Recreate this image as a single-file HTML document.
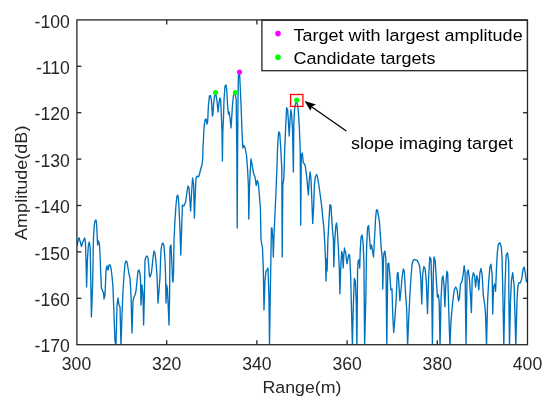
<!DOCTYPE html>
<html><head><meta charset="utf-8"><style>
html,body{margin:0;padding:0;background:#fff;}
svg{display:block;}
text{font-family:"Liberation Sans",Arial,sans-serif;fill:#262626;}
</style></head><body>
<svg width="550" height="407" viewBox="0 0 550 407">
<rect x="0" y="0" width="550" height="407" fill="#fff"/>
<clipPath id="ax"><rect x="76.9" y="19.9" width="450.6" height="324.8"/></clipPath>
<polyline clip-path="url(#ax)" points="77.0,246.0 78.0,241.0 79.0,237.6 80.3,242.0 81.5,246.5 82.8,242.0 84.6,238.0 85.4,242.0 86.0,260.0 86.6,287.0 87.4,260.0 88.4,245.0 89.4,242.0 90.2,248.0 90.6,270.0 91.4,317.0 92.6,285.0 93.0,265.0 93.4,240.0 94.2,226.0 95.0,221.0 96.0,220.0 96.6,224.0 97.0,232.0 97.6,245.0 98.6,241.0 99.4,244.0 100.0,254.0 100.6,270.0 101.4,288.0 102.6,291.0 103.6,293.0 104.0,299.0 105.0,295.0 105.6,281.0 106.0,270.0 107.0,266.0 108.0,270.0 109.0,265.0 110.0,265.0 111.0,268.0 112.0,276.0 113.0,288.0 114.0,315.0 115.0,341.0 116.0,346.0 117.0,305.0 118.0,298.0 119.0,305.0 120.0,307.0 121.0,346.0 122.0,315.0 123.0,291.0 124.0,275.0 125.0,264.0 126.0,261.0 127.0,262.0 128.0,268.0 129.0,274.0 130.0,278.0 131.0,295.0 132.0,333.0 133.0,301.0 134.0,297.0 135.0,295.0 136.0,291.0 137.0,281.0 138.0,271.0 139.0,270.0 140.0,274.0 140.6,282.0 141.0,305.0 142.0,285.0 143.0,295.0 143.6,325.0 144.4,295.0 145.0,260.0 146.0,257.0 147.0,256.0 148.0,258.0 148.6,264.0 149.4,276.0 150.0,277.0 151.4,273.0 152.6,262.0 153.2,256.0 154.0,251.0 155.0,253.0 156.0,262.0 157.0,276.0 157.5,289.0 158.0,303.0 159.0,291.0 160.0,277.0 160.5,262.0 161.0,250.0 162.0,244.0 163.0,243.0 164.0,246.0 165.0,260.0 165.6,276.0 166.0,303.0 166.6,285.0 167.4,289.0 168.0,301.0 169.0,325.0 169.6,295.0 170.0,247.0 171.0,245.0 172.0,266.0 172.6,281.0 173.0,282.0 173.6,271.0 174.0,240.0 175.0,220.0 176.0,205.0 177.0,196.0 177.6,195.0 178.4,198.0 179.0,208.0 180.0,230.0 180.8,255.0 181.6,230.0 182.4,205.0 183.6,206.0 184.4,205.0 185.6,202.0 187.0,192.0 188.0,186.0 189.0,188.0 190.0,202.0 190.6,211.0 191.6,192.0 192.6,178.0 193.6,184.0 194.4,218.0 195.2,196.0 196.0,178.0 197.0,176.0 198.0,177.0 199.0,176.0 200.0,172.0 201.0,168.0 202.0,165.0 202.6,160.0 203.0,148.0 203.6,136.0 204.0,128.0 205.0,120.0 206.0,119.0 207.0,124.0 207.6,122.0 208.4,106.0 209.4,96.0 210.4,95.6 211.4,100.0 212.4,116.0 213.0,114.0 213.6,104.0 214.4,97.0 215.2,93.6 216.0,95.0 217.0,101.0 218.0,112.0 219.0,103.0 220.0,98.0 220.6,99.0 221.2,112.0 222.0,132.0 222.4,161.0 222.8,132.0 223.4,120.0 224.0,100.0 225.0,86.0 226.0,85.0 226.8,90.0 227.6,106.0 228.4,114.0 229.2,112.0 230.0,118.0 231.0,128.0 231.6,120.0 232.4,106.0 233.4,96.0 234.4,93.0 235.4,95.0 236.2,100.0 236.8,150.0 237.2,228.0 237.6,150.0 238.0,100.0 238.4,76.0 239.0,72.0 239.6,74.0 240.2,86.0 241.0,104.0 241.6,120.0 242.4,141.0 243.0,148.0 244.0,145.5 245.2,148.0 246.6,156.0 247.6,170.0 248.4,186.0 248.8,219.0 249.4,190.0 250.0,176.0 250.9,159.0 252.1,164.6 253.0,170.0 253.8,174.0 255.0,177.0 256.2,185.5 257.4,180.5 258.4,184.0 259.4,196.0 260.4,208.0 261.0,239.5 262.5,248.0 263.3,269.0 264.0,310.0 265.0,280.0 266.0,271.0 267.0,270.0 268.0,268.0 269.0,300.0 269.5,346.0 270.2,300.0 271.4,228.0 272.0,228.0 272.9,240.0 273.3,257.0 274.0,235.0 275.0,213.0 276.0,192.0 277.0,166.0 277.5,149.5 278.0,140.0 278.8,131.8 279.8,133.8 280.8,149.5 281.8,169.0 282.2,257.0 282.8,185.0 283.8,179.0 284.7,150.0 285.6,129.0 286.6,107.7 287.6,109.6 288.6,125.0 289.2,136.0 290.1,119.5 290.9,109.6 291.7,115.5 292.5,129.0 293.4,172.0 293.8,125.0 294.5,109.6 295.5,103.8 296.4,101.8 297.4,103.8 298.4,111.6 299.4,129.0 300.2,149.0 300.7,225.0 301.3,155.0 302.3,153.0 303.3,162.7 304.3,163.7 305.3,166.0 305.8,170.0 306.7,177.0 307.5,185.6 308.4,195.0 309.3,178.8 310.1,172.0 311.0,178.8 311.8,199.0 312.7,223.5 313.6,208.0 314.4,185.6 315.3,177.0 316.5,174.5 317.5,177.0 318.7,184.0 319.9,192.5 321.3,202.9 322.7,216.6 323.9,228.7 324.8,243.6 325.5,259.0 326.0,281.0 326.5,259.0 327.1,271.0 327.9,239.6 329.0,220.0 329.9,204.6 331.0,206.0 331.6,216.6 332.5,230.0 333.4,239.6 333.8,267.0 334.8,239.6 335.8,226.0 336.5,223.0 337.3,229.8 338.3,247.5 339.3,269.0 339.9,293.7 340.7,269.0 341.7,251.4 342.6,255.0 343.2,268.0 343.8,255.0 344.5,248.0 345.0,252.0 345.5,251.0 346.0,255.8 347.0,263.7 348.0,257.8 349.0,254.3 349.7,255.8 350.1,264.7 350.7,277.4 351.5,310.0 352.4,346.0 353.2,310.0 354.3,278.4 355.3,281.0 356.2,300.0 356.9,346.0 357.6,269.6 358.2,260.7 359.2,259.7 359.7,268.0 360.3,249.0 361.1,237.0 362.1,235.0 363.1,243.0 363.9,261.0 364.6,346.0 365.8,300.0 366.6,247.0 367.6,227.5 368.6,225.5 369.6,239.0 370.5,249.0 371.5,245.0 372.5,251.0 373.5,257.0 374.5,239.0 375.5,219.6 376.4,209.8 377.4,209.8 378.4,215.7 379.4,221.6 380.4,235.4 381.3,249.0 382.3,259.0 382.8,289.0 383.5,260.0 383.9,253.0 384.9,251.0 385.9,259.0 386.8,346.0 387.8,264.0 388.8,263.0 389.7,273.6 390.9,290.0 392.0,289.0 392.8,316.0 393.7,332.5 394.9,318.4 396.0,302.0 397.3,273.6 398.0,272.4 398.7,280.7 399.9,300.7 401.0,290.0 402.2,276.0 403.4,268.9 404.3,271.2 405.5,292.5 406.7,309.0 407.6,346.0 408.6,320.8 409.8,297.0 410.9,278.3 412.1,264.0 413.3,260.0 414.5,259.4 415.7,260.0 417.3,260.6 418.5,263.0 419.7,266.5 420.8,278.3 421.8,304.0 422.7,273.6 423.9,266.5 425.1,268.9 426.3,280.7 427.5,313.7 428.6,278.3 429.8,257.0 431.0,259.4 431.7,285.4 432.4,346.0 433.3,273.6 434.0,257.0 435.2,260.6 436.4,280.7 437.4,297.0 438.3,294.8 439.2,302.0 440.0,346.0 441.1,297.0 442.1,278.3 443.0,276.0 444.0,285.4 444.9,306.6 445.8,285.4 446.8,271.2 447.7,273.6 448.7,309.0 449.9,346.0 451.0,320.8 452.8,301.0 454.3,289.8 455.7,287.0 457.1,289.8 458.5,301.0 459.4,298.4 460.5,284.0 462.0,281.3 463.4,272.7 464.2,265.6 465.1,272.7 466.0,346.0 467.1,272.7 468.2,269.9 469.4,278.4 470.5,295.5 471.4,312.6 472.2,278.4 473.4,272.7 474.5,275.6 475.6,287.0 476.8,275.6 477.9,279.9 478.8,289.8 479.9,272.7 481.1,268.5 482.2,275.6 483.3,295.5 484.8,305.5 485.6,315.5 486.5,346.0 487.6,301.0 488.7,281.3 489.9,267.0 491.0,264.2 492.2,275.6 492.7,314.0 493.6,287.0 494.7,284.0 495.6,291.3 496.4,269.9 497.3,252.8 498.4,244.2 499.9,242.8 501.3,247.0 502.1,258.5 503.0,301.0 503.8,346.0 505.0,287.0 506.1,255.6 507.5,252.8 508.7,261.3 508.9,300.0 509.5,346.0 510.5,300.0 511.5,280.0 512.7,272.7 514.1,285.6 515.0,315.5 515.8,346.0 517.0,301.0 517.8,287.0 518.9,282.7 520.4,282.7 521.8,278.4 522.9,269.9 524.1,267.0 525.2,272.7 526.4,281.3 528.0,283.0" fill="none" stroke="#0072BD" stroke-width="1.35" stroke-linejoin="round"/>
<g stroke="#262626" stroke-width="1.3" fill="none">
<rect x="76.9" y="19.9" width="450.6" height="324.8"/>
<line x1="166.70" y1="344.7" x2="166.70" y2="340.2"/><line x1="166.70" y1="19.9" x2="166.70" y2="24.4"/><line x1="256.90" y1="344.7" x2="256.90" y2="340.2"/><line x1="256.90" y1="19.9" x2="256.90" y2="24.4"/><line x1="347.10" y1="344.7" x2="347.10" y2="340.2"/><line x1="347.10" y1="19.9" x2="347.10" y2="24.4"/><line x1="437.30" y1="344.7" x2="437.30" y2="340.2"/><line x1="437.30" y1="19.9" x2="437.30" y2="24.4"/><line x1="76.9" y1="66.30" x2="81.4" y2="66.30"/><line x1="527.5" y1="66.30" x2="523.0" y2="66.30"/><line x1="76.9" y1="112.70" x2="81.4" y2="112.70"/><line x1="527.5" y1="112.70" x2="523.0" y2="112.70"/><line x1="76.9" y1="159.10" x2="81.4" y2="159.10"/><line x1="527.5" y1="159.10" x2="523.0" y2="159.10"/><line x1="76.9" y1="205.50" x2="81.4" y2="205.50"/><line x1="527.5" y1="205.50" x2="523.0" y2="205.50"/><line x1="76.9" y1="251.90" x2="81.4" y2="251.90"/><line x1="527.5" y1="251.90" x2="523.0" y2="251.90"/><line x1="76.9" y1="298.30" x2="81.4" y2="298.30"/><line x1="527.5" y1="298.30" x2="523.0" y2="298.30"/>
</g>
<g font-size="17.6">
<text x="76.50" y="370.2" text-anchor="middle">300</text><text x="166.70" y="370.2" text-anchor="middle">320</text><text x="256.90" y="370.2" text-anchor="middle">340</text><text x="347.10" y="370.2" text-anchor="middle">360</text><text x="437.30" y="370.2" text-anchor="middle">380</text><text x="527.50" y="370.2" text-anchor="middle">400</text>
<text x="69.8" y="27.50" text-anchor="end">-100</text><text x="69.8" y="73.90" text-anchor="end">-110</text><text x="69.8" y="120.30" text-anchor="end">-120</text><text x="69.8" y="166.70" text-anchor="end">-130</text><text x="69.8" y="213.10" text-anchor="end">-140</text><text x="69.8" y="259.50" text-anchor="end">-150</text><text x="69.8" y="305.90" text-anchor="end">-160</text><text x="69.8" y="352.30" text-anchor="end">-170</text>
</g>
<text transform="translate(302,393.3) scale(1.045,1)" text-anchor="middle" font-size="17">Range(m)</text>
<text transform="translate(26.6,182.8) rotate(-90) scale(1.063,1)" text-anchor="middle" font-size="17">Amplitude(dB)</text>
<!-- legend -->
<rect x="261.9" y="20.3" width="265.4" height="50.4" fill="#fff" stroke="#262626" stroke-width="1.3"/>
<circle cx="278" cy="33.6" r="2.8" fill="#FF00FF"/>
<circle cx="278" cy="57.3" r="2.8" fill="#00FF00"/>
<text transform="translate(293.5,40.6) scale(1.06,1)" font-size="17" style="fill:#000">Target with largest amplitude</text>
<text transform="translate(293.5,63.7) scale(1.06,1)" font-size="17" style="fill:#000">Candidate targets</text>
<!-- markers -->
<circle cx="239.5" cy="72" r="2.6" fill="#FF00FF"/>
<circle cx="215.5" cy="92.5" r="2.6" fill="#00FF00"/>
<circle cx="235.4" cy="92.5" r="2.6" fill="#00FF00"/>
<circle cx="296.7" cy="100" r="2.6" fill="#00FF00"/>
<!-- annotation -->
<rect x="290.6" y="94.5" width="12.3" height="11.9" fill="none" stroke="#FF0000" stroke-width="1.3"/>
<line x1="346.3" y1="131" x2="310.5" y2="106" stroke="#000" stroke-width="1.3"/>
<path d="M304.6,101.1 L316,104.4 L311.9,106.6 L310.4,110.8 Z" fill="#000"/>
<text transform="translate(350.9,148.7) scale(1.06,1)" font-size="17" style="fill:#000">slope imaging target</text>
</svg>
</body></html>
